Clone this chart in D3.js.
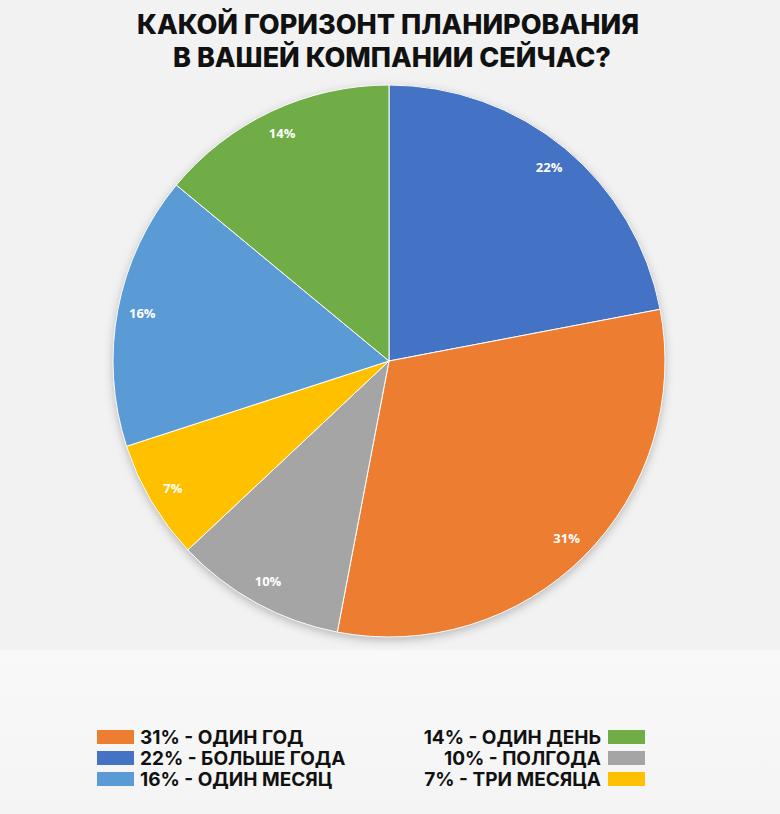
<!DOCTYPE html>
<html><head><meta charset="utf-8">
<script src="https://cdn.jsdelivr.net/npm/d3@7"></script>
<style>body{margin:0;background:#f2f2f2}svg{display:block}</style>
</head><body><svg id="c" width="780" height="814"></svg>
<script>
const categories=["БОЛЬШЕ ГОДА","ОДИН ГОД","ПОЛГОДА","ТРИ МЕСЯЦА","ОДИН МЕСЯЦ","ОДИН ДЕНЬ"];
const values=[22,31,10,7,16,14];
const colors=["#4472c4","#ed7d31","#a5a5a5","#ffc000","#5b9bd5","#70ad47"];
const leftLegend=[1,0,4];
const rightLegend=[5,2,3];
const svg=d3.select("#c");
const defs=svg.append("defs");
const g=defs.append("linearGradient").attr("id","bg").attr("x1",0).attr("x2",0).attr("y1",0).attr("y2",1);
g.append("stop").attr("offset","0").attr("stop-color","#f9f9f9");
g.append("stop").attr("offset","1").attr("stop-color","#f4f4f4");
const f=defs.append("filter").attr("id","sh").attr("x","-20%").attr("y","-20%").attr("width","140%").attr("height","140%");
f.append("feDropShadow").attr("dx",0).attr("dy",3).attr("stdDeviation",5).attr("flood-opacity",0.25);
svg.append("rect").attr("width",780).attr("height",814).attr("fill","#f2f2f2");
svg.append("rect").attr("y",650).attr("width",780).attr("height",164).attr("fill","url(#bg)");
const t=svg.append("text").attr("text-anchor","middle").attr("font-family","Inter, 'Open Sans', sans-serif").attr("font-weight",800).attr("font-size",27).attr("fill","#111");
t.append("tspan").attr("x",388).attr("y",34).text("КАКОЙ ГОРИЗОНТ ПЛАНИРОВАНИЯ");
t.append("tspan").attr("x",392).attr("y",67).text("В ВАШЕЙ КОМПАНИИ СЕЙЧАС?");
const cx=389,cy=361,R=276;
const pie=d3.pie().sort(null).value(d=>d)(values);
const arc=d3.arc().innerRadius(0).outerRadius(R);
const lab=d3.arc().innerRadius(R*0.91).outerRadius(R*0.91);
const pg=svg.append("g").attr("transform",`translate(${cx},${cy})`);
pg.append("circle").attr("r",R).attr("fill","#888").attr("filter","url(#sh)");
pg.selectAll("path").data(pie).join("path").attr("d",arc).attr("fill",(d,i)=>colors[i]).attr("stroke","#fff").attr("stroke-width",1);
pg.selectAll("text").data(pie).join("text").attr("transform",d=>`translate(${lab.centroid(d)})`)
 .attr("text-anchor","middle").attr("dy","0.35em").attr("fill","#fff").attr("font-family","'Open Sans',sans-serif").attr("font-weight",700).attr("font-size",13)
 .text(d=>d.data+"%");
const ys=[737,758,779];
const lf="Inter, 'Open Sans', sans-serif";
leftLegend.forEach((k,j)=>{
 svg.append("rect").attr("x",97).attr("y",ys[j]-7).attr("width",37).attr("height",14).attr("fill",colors[k]);
 svg.append("text").attr("x",140).attr("y",ys[j]).attr("dy","0.36em").attr("font-family",lf).attr("font-weight",700).attr("font-size",19).attr("fill","#111").text(values[k]+"% - "+categories[k]);
});
rightLegend.forEach((k,j)=>{
 svg.append("rect").attr("x",608).attr("y",ys[j]-7).attr("width",37).attr("height",14).attr("fill",colors[k]);
 svg.append("text").attr("x",601).attr("y",ys[j]).attr("dy","0.36em").attr("text-anchor","end").attr("font-family",lf).attr("font-weight",700).attr("font-size",19).attr("fill","#111").text(values[k]+"% - "+categories[k]);
});
</script></body></html>
